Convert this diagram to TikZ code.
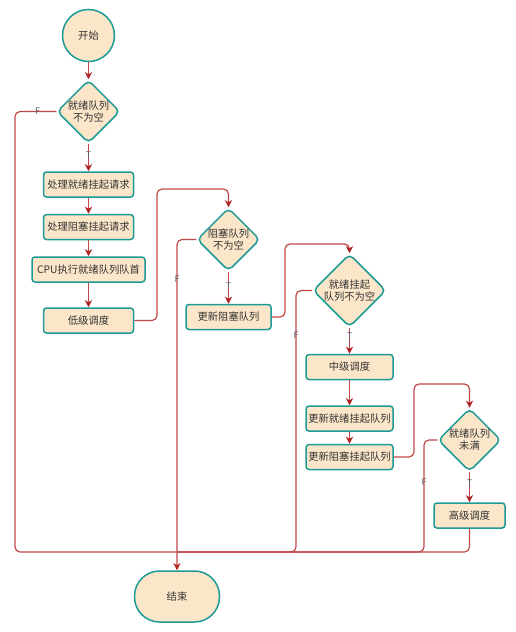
\documentclass[tikz,border=0pt]{standalone}
\usepackage{fontspec}
\setmainfont{Noto Sans CJK SC}
\usetikzlibrary{shapes.geometric,arrows.meta}
\definecolor{boxfill}{HTML}{FBE6C9}
\definecolor{boxline}{HTML}{1D9A96}
\definecolor{flowc}{HTML}{C24848}
\definecolor{tipc}{HTML}{B02525}
\definecolor{txt}{HTML}{333333}
\definecolor{lbl}{HTML}{55606A}
\begin{document}
\begin{tikzpicture}[x=1pt,y=-1pt,
 base/.style={draw=boxline, fill=boxfill, line width=1.5pt, text=txt, font=\fontsize{10.3}{12}\selectfont, align=center},
 procbox/.style={base, rectangle, rounded corners=3pt, minimum height=25pt, inner sep=1pt},
 decbox/.style={base, diamond, rounded corners=5pt, inner sep=0pt, minimum size=63pt},
 flow/.style={draw=flowc, line width=1.2pt, rounded corners=5pt},
 arr/.style={flow, -{Stealth[length=7pt,width=7pt,inset=2pt,color=tipc,fill=tipc]}},
 tf/.style={text=lbl, font=\fontsize{9}{10}\selectfont, inner sep=0pt}]
\useasboundingbox (0,0) rectangle (515,632);
% nodes
\node[base, circle, minimum size=52pt, inner sep=0pt] (start) at (88.5,35.5) {开始};
\node[decbox] (d1) at (88.5,111.5) {就绪队列\\不为空};
\node[procbox, minimum width=90pt] (p1) at (88.5,184.5) {处理就绪挂起请求};
\node[procbox, minimum width=90pt] (p2) at (88.5,227) {处理阻塞挂起请求};
\node[procbox, minimum width=113pt] (p3) at (88.5,269.5) {CPU执行就绪队列队首};
\node[procbox, minimum width=90pt] (p4) at (88.5,320.5) {低级调度};
\node[decbox] (d2) at (228.5,239.5) {阻塞队列\\不为空};
\node[procbox, minimum width=85pt] (q1) at (228.5,317) {更新阻塞队列};
\node[decbox] (d3) at (349.5,290.5) {就绪挂起\\队列不为空};
\node[procbox, minimum width=87pt] (m1) at (349.5,367) {中级调度};
\node[procbox, minimum width=87pt] (m2) at (349.5,418.5) {更新就绪挂起队列};
\node[procbox, minimum width=87pt] (m3) at (349.5,457) {更新阻塞挂起队列};
\node[decbox] (d4) at (469.5,440) {就绪队列\\未满};
\node[procbox, minimum width=71pt] (h1) at (469.5,515.5) {高级调度};
\node[base, rounded corners=25pt, minimum width=85pt, minimum height=51pt] (finish) at (177,596.5) {结束};
\coordinate (j) at (177,552);
% connectors
\draw[arr] (start) -- (d1);
\draw[arr] (d1) -- node[tf, pos=0.4] {T} (p1);
\draw[arr] (p1) -- (p2);
\draw[arr] (p2) -- (p3);
\draw[arr] (p3) -- (p4);
\draw[arr] (p4.east) -- (157,320.5) -- (157,189) -- (228.5,189) -- (d2.north);
\draw[arr] (d2) -- node[tf, pos=0.45] {T} (q1);
\draw[arr] (q1.east) -- (285,317) -- (285,244) -- (349.5,244) -- (d3.north);
\draw[arr] (d3) -- node[tf, pos=0.32] {T} (m1);
\draw[arr] (m1) -- (m2);
\draw[arr] (m2) -- (m3);
\draw[arr] (m3.east) -- (414,457) -- (414,384) -- (469.5,384) -- (d4.north);
\draw[arr] (d4) -- node[tf, pos=0.35] {T} (h1);
% F branches
\draw[flow] (d1.west) -- node[tf, pos=0.45] {F} (15,111.5) -- (15,552) -- (j);
\draw[arr] (d2.west) -- (177,239.5) -- node[tf, pos=0.12] {F} (finish.north);
\draw[flow] (d3.west) -- (296,290.5) -- node[tf, pos=0.17] {F} (296,552) -- (j);
\draw[flow] (d4.west) -- (424,440) -- node[tf, pos=0.38] {F} (424,552) -- (j);
\draw[flow] (h1.south) -- (469.5,552) -- (j);
\end{tikzpicture}
\end{document}
